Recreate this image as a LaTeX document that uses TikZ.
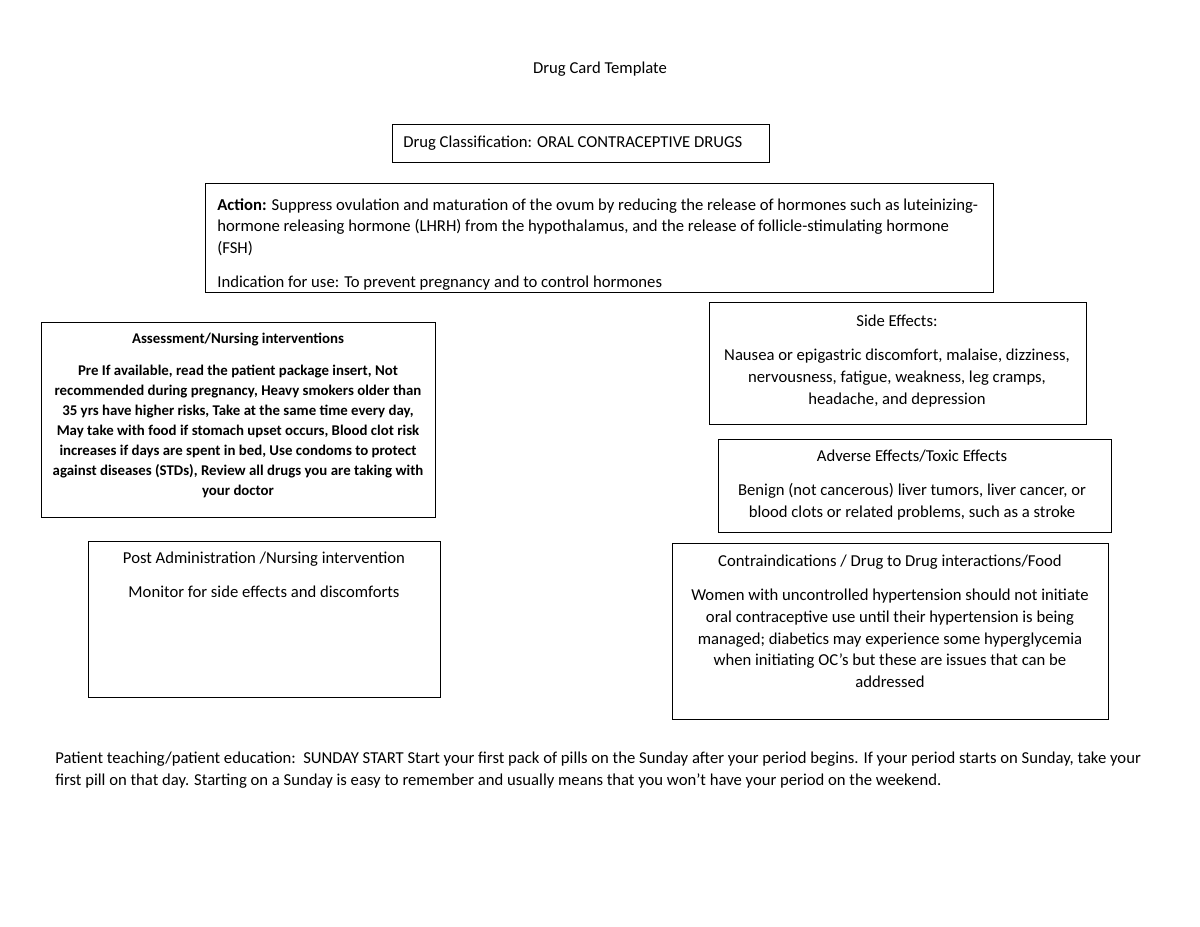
\documentclass[tikz,border=0pt]{standalone}
\usepackage{fontspec}
\setmainfont{Carlito}
\usetikzlibrary{fit}
\begin{document}
\begin{tikzpicture}[x=0.66pt,y=-0.66pt,
  box/.style={draw=black,line width=0.6pt,inner sep=0pt,fill=none},
  txt/.style={inner sep=0pt,font=\fontsize{11}{14.3}\selectfont},
  ctxt/.style={txt,align=center,anchor=north},
  ltxt/.style={txt,align=left,anchor=north west}]
\useasboundingbox[fill=white] (0,0) rectangle (1200,927);

\node[ctxt] (title) at (600,62) {Drug Card Template};

\node[box,fit={(392,124)(769,162)}] (classbox) {};
\node[ltxt] (classtxt) at (403,136) {Drug Classification: ORAL CONTRACEPTIVE DRUGS};

\node[box,fit={(205,183)(993,292)}] (actbox) {};
\node[ltxt] (acttxt) at (217,198) {\textbf{Action:} Suppress ovulation and maturation of the ovum by reducing the release of hormones such as luteinizing-\\
hormone releasing hormone (LHRH) from the hypothalamus, and the release of follicle-stimulating hormone\\
(FSH)\\[8pt]
Indication for use: To prevent pregnancy and to control hormones};

\node[box,fit={(41,322)(435,517)}] (assbox) {};
\node[ctxt,font=\fontsize{9.8}{13.2}\selectfont\bfseries] (asstxt) at (238,333) {Assessment/Nursing interventions\\[8pt]
Pre If available, read the patient package insert, Not\\
recommended during pregnancy, Heavy smokers older than\\
35 yrs have higher risks, Take at the same time every day,\\
May take with food if stomach upset occurs, Blood clot risk\\
increases if days are spent in bed, Use condoms to protect\\
against diseases (STDs), Review all drugs you are taking with\\
your doctor};

\node[box,fit={(709,302)(1086,424)}] (sidebox) {};
\node[ctxt] (sidetxt) at (897,315) {Side Effects:\\[8pt]
Nausea or epigastric discomfort, malaise, dizziness,\\
nervousness, fatigue, weakness, leg cramps,\\
headache, and depression};

\node[box,fit={(718,439)(1111,532)}] (advbox) {};
\node[ctxt] (advtxt) at (912,450) {Adverse Effects/Toxic Effects\\[8pt]
Benign (not cancerous) liver tumors, liver cancer, or\\
blood clots or related problems, such as a stroke};

\node[box,fit={(88,541)(440,697)}] (postbox) {};
\node[ctxt] (posttxt) at (264,552) {Post Administration /Nursing intervention\\[8pt]
Monitor for side effects and discomforts};

\node[box,fit={(672,543)(1108,719)}] (contrabox) {};
\node[ctxt] (contratxt) at (890,555) {Contraindications / Drug to Drug interactions/Food\\[8pt]
Women with uncontrolled hypertension should not initiate\\
oral contraceptive use until their hypertension is being\\
managed; diabetics may experience some hyperglycemia\\
when initiating OC’s but these are issues that can be\\
addressed};

\node[ltxt] (teach) at (55,752) {Patient teaching/patient education:\ \ SUNDAY START Start your first pack of pills on the Sunday after your period begins. If your period starts on Sunday, take your\\
first pill on that day. Starting on a Sunday is easy to remember and usually means that you won’t have your period on the weekend.};
\end{tikzpicture}
\end{document}
